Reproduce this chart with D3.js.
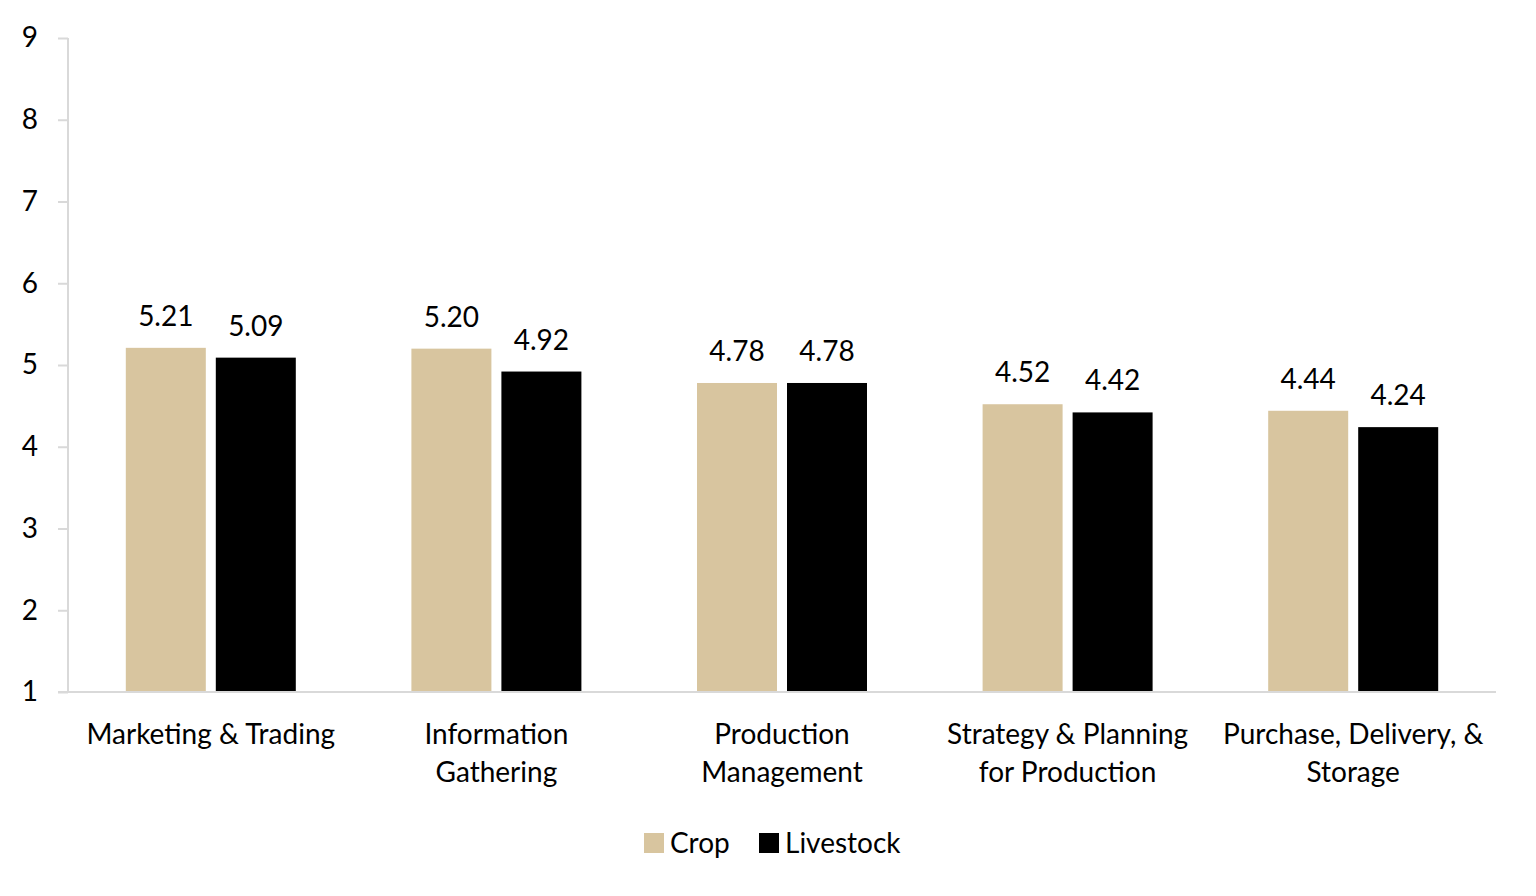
<!DOCTYPE html>
<html>
<head>
<meta charset="utf-8">
<script src="https://d3js.org/d3.v7.min.js"></script>
<style>
  html, body { margin: 0; padding: 0; background: #fff; }
  svg { display: block; }
  text { font-family: Lato, "Open Sans", sans-serif; fill: #000; }
</style>
</head>
<body>
<svg id="chart" width="1536" height="896"></svg>
<script>
const categories = [
  ["Marketing & Trading"],
  ["Information", "Gathering"],
  ["Production", "Management"],
  ["Strategy & Planning", "for Production"],
  ["Purchase, Delivery, &", "Storage"]
];
const seriesNames = ["Crop", "Livestock"];
const cropValues = [5.21, 5.20, 4.78, 4.52, 4.44];
const livestockValues = [5.09, 4.92, 4.78, 4.42, 4.24];
const yTicks = [1, 2, 3, 4, 5, 6, 7, 8, 9];
const colors = { Crop: "#d8c59f", Livestock: "#000000" };

const svg = d3.select("#chart");
const plotLeft = 68, plotRight = 1496, plotTop = 38, plotBottom = 692;
const fontSize = "28px";

const rows = categories.map((c, i) => ({
  key: i,
  lines: c,
  Crop: cropValues[i],
  Livestock: livestockValues[i]
}));

const y = d3.scaleLinear().domain([1, 9]).range([plotBottom, plotTop]);
const x0 = d3.scaleBand().domain(rows.map(d => d.key)).range([plotLeft, plotRight]).padding(0);
const groupW = 170;
const x1 = d3.scaleBand().domain(seriesNames)
  .range([(x0.bandwidth() - groupW) / 2, (x0.bandwidth() + groupW) / 2])
  .paddingInner(1 / 9).paddingOuter(0);

// y axis
const yAxis = svg.append("g")
  .attr("transform", `translate(${plotLeft},0)`)
  .call(d3.axisLeft(y).tickValues(yTicks).tickSize(10).tickPadding(20).tickFormat(d3.format("d")));
yAxis.select(".domain").attr("stroke", "#d9d9d9").attr("stroke-width", 2)
  .attr("d", `M0,${plotTop}V${plotBottom}`);
yAxis.selectAll(".tick line").attr("stroke", "#d9d9d9").attr("stroke-width", 2);
yAxis.selectAll(".tick text").style("font-size", fontSize).attr("fill", "#000");

// bars
const groups = svg.append("g").selectAll("g")
  .data(rows).enter().append("g")
  .attr("transform", d => `translate(${x0(d.key)},0)`);

groups.selectAll("rect")
  .data(d => seriesNames.map(s => ({ s, v: d[s] })))
  .enter().append("rect")
  .attr("x", d => x1(d.s))
  .attr("width", x1.bandwidth())
  .attr("y", d => y(d.v))
  .attr("height", d => y(1) - y(d.v))
  .attr("fill", d => colors[d.s]);

groups.selectAll("text.val")
  .data(d => seriesNames.map(s => ({ s, v: d[s] })))
  .enter().append("text")
  .attr("class", "val")
  .attr("x", d => x1(d.s) + x1.bandwidth() / 2)
  .attr("y", d => y(d.v) - 22)
  .attr("text-anchor", "middle")
  .style("font-size", fontSize)
  .text(d => d.v.toFixed(2));

// baseline
svg.append("line")
  .attr("x1", plotLeft - 10).attr("x2", plotRight)
  .attr("y1", y(1)).attr("y2", y(1))
  .attr("stroke", "#d9d9d9").attr("stroke-width", 2);

// category labels
groups.append("text")
  .attr("x", x0.bandwidth() / 2)
  .attr("y", 744)
  .attr("text-anchor", "middle")
  .style("font-size", fontSize)
  .selectAll("tspan")
  .data(d => d.lines)
  .enter().append("tspan")
  .attr("x", x0.bandwidth() / 2)
  .attr("dy", (d, i) => i === 0 ? 0 : 38)
  .text(d => d);

// legend
const legend = svg.append("g").attr("transform", "translate(644,833)");
const legendX = [0, 115];
seriesNames.forEach((s, i) => {
  const g = legend.append("g").attr("transform", `translate(${legendX[i]},0)`);
  g.append("rect").attr("width", 20).attr("height", 20).attr("fill", colors[s]);
  g.append("text").attr("x", 26).attr("y", 20).style("font-size", fontSize).text(s);
});
</script>
</body>
</html>
